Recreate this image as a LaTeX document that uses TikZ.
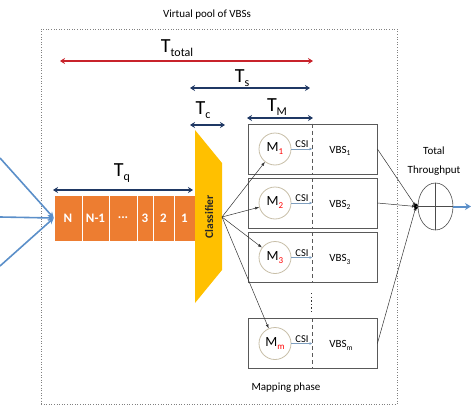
\documentclass[tikz,border=0pt]{standalone}
\usepackage{fontspec}
\setmainfont{Carlito}
\usetikzlibrary{arrows.meta,shapes.geometric}
\definecolor{qorange}{HTML}{ED7D31}
\definecolor{cyellow}{HTML}{FFC000}
\definecolor{tred}{HTML}{C8232B}
\definecolor{tnavy}{HTML}{1F3864}
\definecolor{inblue}{HTML}{5B8FC9}
\definecolor{mtan}{HTML}{C8BFA8}
\definecolor{csiblue}{HTML}{7F9FBF}
\definecolor{boxgray}{HTML}{595959}
\newcommand{\Tx}[1]{T\raisebox{-4pt}{\fontsize{12}{12}\selectfont #1}}
\newcommand{\Mx}[1]{M\raisebox{-3pt}{\fontsize{9}{9}\selectfont\color{red}#1}}
\newcommand{\Vx}[1]{VBS\raisebox{-2.5pt}{\fontsize{7.5}{7.5}\selectfont #1}}
\begin{document}
\begin{tikzpicture}[x=1pt,y=-1pt,
  tlab/.style={font=\fontsize{20}{20}\selectfont, inner sep=0pt},
  tarrow/.style={tnavy, line width=1.6pt, {Stealth[length=5pt,width=6pt]}-{Stealth[length=5pt,width=6pt]}},
  cell/.style={fill=qorange, draw=white, line width=0.5pt, minimum height=46pt, inner sep=0pt, text=white, font=\bfseries\fontsize{13}{13}\selectfont},
  inarrow/.style={inblue, line width=1.6pt, -{Stealth[length=6pt,width=6pt]}},
  fan/.style={black!80, line width=0.5pt, -{Latex[length=4pt,width=3pt]}},
  vbsbox/.style={draw=boxgray, line width=0.8pt, minimum width=129pt, minimum height=50pt, inner sep=0pt},
  mcirc/.style={circle, draw=mtan, line width=0.8pt, fill=white, minimum size=32pt, inner sep=0pt, font=\fontsize{14}{14}\selectfont},
  csiarrow/.style={csiblue, line width=0.7pt, -{Latex[length=3pt,width=3pt]}},
  vlab/.style={font=\fontsize{11}{11}\selectfont},
  csilab/.style={font=\fontsize{10.5}{10.5}\selectfont, inner sep=1pt, text=black},
  sumline/.style={black!80, line width=0.5pt, -{Latex[length=4pt,width=3pt]}},
  txt/.style={font=\fontsize{11}{11}\selectfont}
]
\useasboundingbox (0,0) rectangle (474,415);

% title and pool
\node[txt] (title) at (207,15) {Virtual pool of VBSs};
\node[draw=gray, dotted, line width=0.6pt, minimum width=356pt, minimum height=375pt, inner sep=0pt] (pool) at (219,216.5) {};

% time arrows
\coordinate (tt1) at (60,61);  \coordinate (tt2) at (313,61);
\coordinate (ts1) at (190,88); \coordinate (ts2) at (310,88);
\coordinate (tc1) at (190,125); \coordinate (tc2) at (225,125);
\coordinate (tm1) at (247,118); \coordinate (tm2) at (313,118);
\coordinate (tq1) at (53,190); \coordinate (tq2) at (193,190);
\draw[tarrow, tred] (tt1) -- (tt2);
\draw[tarrow] (ts1) -- (ts2);
\draw[tarrow] (tc1) -- (tc2);
\draw[tarrow] (tm1) -- (tm2);
\draw[tarrow] (tq1) -- (tq2);
\node[tlab] (ltot) at (177,48) {\Tx{total}};
\node[tlab] (ls) at (242,78) {\Tx{s}};
\node[tlab] (lc) at (203,110) {\Tx{c}};
\node[tlab] (lm) at (277,107) {\Tx{M}};
\node[tlab] (lq) at (122,173) {\Tx{q}};

% queue
\node[cell, minimum width=28pt] (qN) at (68,218) {N};
\node[cell, minimum width=27pt] (qN1) at (95.5,218) {N-1};
\node[cell, minimum width=28pt] (qd) at (123,218) {...};
\node[cell, minimum width=16pt] (q3) at (145,218) {3};
\node[cell, minimum width=21pt] (q2) at (163.5,218) {2};
\node[cell, minimum width=21pt] (q1) at (184.5,218) {1};

% inputs
\coordinate (in1) at (0,158);
\coordinate (in2) at (0,217);
\coordinate (in3) at (0,266);
\draw[inarrow] (in1) -- (qN.west);
\draw[inarrow] (in2) -- (qN.west);
\draw[inarrow] (in3) -- (qN.west);

% classifier
\fill[cyellow] (195,130) -- (222,163) -- (222,270) -- (195,303) -- cycle;
\node[rotate=90, font=\bfseries\fontsize{11.5}{11.5}\selectfont, text=black!85] (cls) at (209,217) {Classifier};
\coordinate (clsout) at (222,217);

% VBS boxes
\node[vbsbox] (vbs1) at (312.5,149) {};
\node[vbsbox] (vbs2) at (312.5,203) {};
\node[vbsbox] (vbs3) at (312.5,257.5) {};
\node[vbsbox] (vbsm) at (312.5,343.5) {};
\foreach \b in {vbs1,vbs2,vbs3,vbsm}{
  \draw[boxgray, line width=0.8pt, dash pattern=on 4pt off 3pt] (\b.north) -- (\b.south);
}
\draw[black!80, line width=1.4pt, dash pattern=on 1.4pt off 2.2pt] (311.5,293) -- (311.5,313);

% M circles
\node[mcirc] (m1) at (275,149) {\Mx{1}};
\node[mcirc] (m2) at (275,203) {\Mx{2}};
\node[mcirc] (m3) at (275,257.5) {\Mx{3}};
\node[mcirc] (mm) at (275,343.5) {\Mx{m}};

% CSI arrows
\draw[csiarrow] (m1.east) -- (vbs1.center) node[midway, above, csilab] {CSI};
\draw[csiarrow] (m2.east) -- (vbs2.center) node[midway, above, csilab] {CSI};
\draw[csiarrow] (m3.east) -- (vbs3.center) node[midway, above, csilab] {CSI};
\draw[csiarrow] (mm.east) -- (vbsm.center) node[midway, above, csilab] {CSI};

% VBS labels
\node[vlab] (v1) at (340,151) {\Vx{1}};
\node[vlab] (v2) at (340,205) {\Vx{2}};
\node[vlab] (v3) at (340,259.5) {\Vx{3}};
\node[vlab] (vm) at (341,345.5) {\Vx{m}};

% fan arrows
\draw[fan] (clsout) -- (m1);
\draw[fan] (clsout) -- (m2);
\draw[fan] (clsout) -- (m3);
\draw[fan] (clsout) -- (mm);

% summation
\coordinate (jn) at (416,206.5);
\node[ellipse, draw=black!70, line width=0.6pt, minimum width=35pt, minimum height=47pt, inner sep=0pt] (sum) at (435.5,206.5) {};
\draw[sumline] (vbs1.east) -- (jn);
\draw[sumline] (vbs2.east) -- (jn);
\draw[sumline] (vbsm.east) -- (jn);
\fill[black] (jn) ellipse (2pt and 3pt);
\draw[black!70, line width=0.6pt] (jn) -- (sum.east);
\draw[black!70, line width=0.6pt] (sum.north) -- (sum.south);
\coordinate (out) at (471,206.5);
\draw[inblue, line width=2pt, -{Stealth[length=6pt,width=7pt]}] (sum.east) -- (out);
\node[align=center, font=\fontsize{11}{19}\selectfont] (tthr) at (434,161) {Total\\Throughput};

% mapping phase
\node[txt, anchor=west] (mp) at (248,388) {Mapping phase};
\end{tikzpicture}
\end{document}
